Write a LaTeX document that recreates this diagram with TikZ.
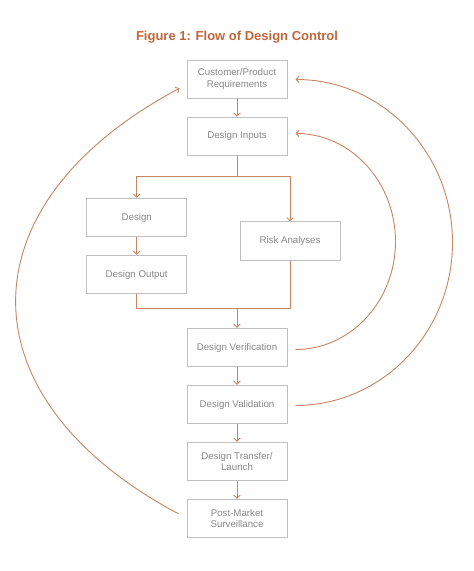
\documentclass[tikz,border=0pt]{standalone}
\usepackage{fontspec}
\setmainfont{Liberation Sans}
\usepackage{tikz}
\usetikzlibrary{arrows.meta,calc,positioning}
\definecolor{my_orange}{RGB}{201, 132, 97}
\definecolor{my_title}{RGB}{192, 102, 58}
\definecolor{box_gray}{RGB}{192, 192, 192}
\definecolor{txt_gray}{RGB}{135, 135, 135}
\tikzset{
  stepnode/.style = {draw=box_gray, line width=1pt, text=txt_gray, align=center,
  minimum width=100pt, minimum height=38.5pt, inner sep=2pt,
  font=\fontsize{9.7}{11.7}\selectfont},
  flow/.style = {->, draw=my_orange, line width=0.9pt},
  titlenode/.style = {text=my_title, font=\fontsize{13}{15}\selectfont\bfseries}
}

\begin{document}
\begin{tikzpicture}[x=1pt,y=1pt,>={Straight Barb[length=3pt,width=6.5pt]},node distance=17.5pt]
  \useasboundingbox (0,0) rectangle (474,-571);
  \node [titlenode] (ttl) at (237,-37) {Figure 1: Flow of Design Control};
  \node [stepnode] (cp) at (237,-79.3) {Customer/Product\\Requirements};
  \node [stepnode, below=of cp] (di) {Design Inputs};
  \node [stepnode] (dsn) at (136.7,-217.5) {Design};
  \node [stepnode, below=of dsn] (dout) {Design Output};
  \node [stepnode] (risk) at (290,-241) {Risk Analyses};
  \node [stepnode] (dver) at (237,-347.5) {Design Verification};
  \node [stepnode, below=of dver] (dval) {Design Validation};
  \node [stepnode, below=of dval] (dtr) {Design Transfer/\\Launch};
  \node [stepnode, below=of dtr] (pm) {Post-Market\\Surveillance};

  % main flow
  \draw [flow] (cp) -- (di);
  \draw [flow] (di.south) -- ++(0,-20) -| (dsn.north);
  \draw [flow] (di.south) -- ++(0,-20) -| (risk.north);
  \draw [flow] (dsn) -- (dout);
  \draw [flow, -] (dout.south) -- ++(0,-14.5) coordinate (mrg) -| (risk.south);
  \draw [flow] (mrg -| dver.north) -- (dver.north);
  \draw [flow] (dver) -- (dval);
  \draw [flow] (dval) -- (dtr);
  \draw [flow] (dtr) -- (pm);

  % feedback loops
  \draw [flow] ([xshift=8pt,yshift=-2pt]dver.east) arc[start angle=-90,end angle=90,x radius=100,y radius=108];
  \draw [flow] ([xshift=8pt,yshift=-1pt]dval.east) arc[start angle=-90,end angle=90,x radius=157,y radius=163];
  \draw [flow] ([xshift=-8pt,yshift=4.7pt]pm.west) to[out=152,in=208,looseness=1.48] ([xshift=-7pt,yshift=-9pt]cp.west);
\end{tikzpicture}
\end{document}
